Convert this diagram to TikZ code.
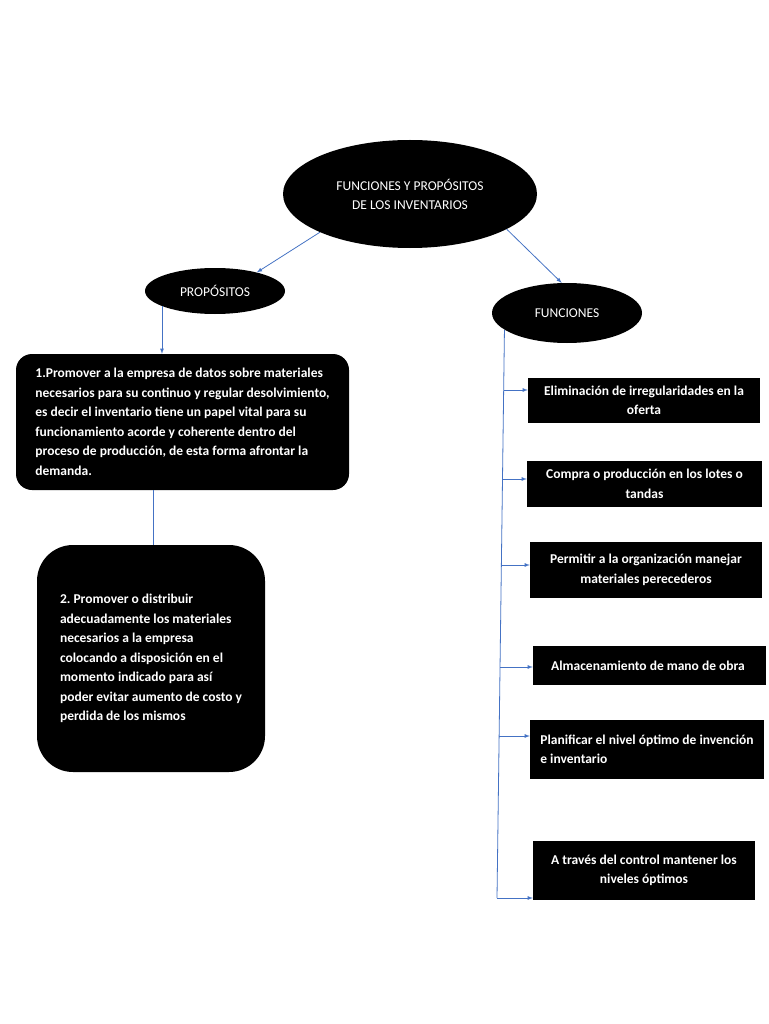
\documentclass[tikz,border=0pt]{standalone}
\usepackage{fontspec}
\setmainfont{Carlito}
\usetikzlibrary{arrows,positioning,shapes}
\usepackage{xcolor}
\definecolor{linkblue}{RGB}{68,114,196}

\begin{document}
\begin{tikzpicture}[x=1pt, y=-1pt,
        oval/.style={ellipse, fill=black, text=white, inner sep=0pt},
        card/.style={rectangle, fill=black, text=white, inner sep=0pt,
            font=\frenchspacing\bfseries\fontsize{13.5}{19.5}\selectfont},
        link/.style={draw=linkblue, line width=0.8pt, -latex},
        trunk/.style={draw=linkblue, line width=0.8pt}]
        \useasboundingbox[fill=white] (0,0) rectangle (768,1024);

        % ovals
        \node (1) [
            oval,
            minimum width=254pt,
            minimum height=108pt,
            align=center,
            font=\fontsize{13.5}{19}\selectfont
        ] at (410,194)
        {
            FUNCIONES Y PROPÓSITOS\\
            DE LOS INVENTARIOS
        };

        \node (2) [
            oval,
            minimum width=140pt,
            minimum height=46pt,
            font=\fontsize{13.5}{16}\selectfont
        ] at (215,291)
        {
            PROPÓSITOS
        };

        \node (3) [
            oval,
            minimum width=150pt,
            minimum height=60pt,
            font=\fontsize{13.5}{16}\selectfont
        ] at (567,313)
        {
            FUNCIONES
        };

        % propositos
        \node (4) [
            card,
            rounded corners=16pt,
            minimum width=333pt,
            minimum height=136pt,
            align=left
        ] at (182.5,422)
        {
            1.Promover a la empresa de datos sobre materiales\\
            necesarios para su continuo y regular desolvimiento,\\
            es decir el inventario tiene un papel vital para su\\
            funcionamiento acorde y coherente dentro del\\
            proceso de producción, de esta forma afrontar la\\
            demanda.
        };

        \node (5) [
            card,
            rounded corners=36pt,
            minimum width=228pt,
            minimum height=227pt,
            align=left
        ] at (151,658.5)
        {
            2. Promover o distribuir\\
            adecuadamente los materiales\\
            necesarios a la empresa\\
            colocando a disposición en el\\
            momento indicado para así\\
            poder evitar aumento de costo y\\
            perdida de los mismos
        };

        % funciones
        \node (6) [
            card,
            minimum width=232pt,
            minimum height=45pt,
            align=center
        ] at (644,400.5)
        {
            Eliminación de irregularidades en la\\
            oferta
        };

        \node (7) [
            card,
            minimum width=235pt,
            minimum height=46pt,
            align=center
        ] at (644.5,484)
        {
            Compra o producción en los lotes o\\
            tandas
        };

        \node (8) [
            card,
            minimum width=232pt,
            minimum height=56pt,
            align=center
        ] at (646,570)
        {
            Permitir a la organización manejar\\
            materiales perecederos
        };

        \node (9) [
            card,
            minimum width=233pt,
            minimum height=39pt,
            align=center
        ] at (649.5,665.5)
        {
            Almacenamiento de mano de obra
        };

        \node (10) [
            card,
            minimum width=234pt,
            minimum height=59pt,
            align=left
        ] at (647,749.5)
        {
            Planificar el nivel óptimo de invención\\
            e inventario
        };

        \node (11) [
            card,
            minimum width=222pt,
            minimum height=59pt,
            align=center
        ] at (644,870.5)
        {
            A través del control mantener los\\
            niveles óptimos
        };

        % branch points
        \coordinate (t6) at (504.2,390);
        \coordinate (t7) at (502.9,479);
        \coordinate (t8) at (501.7,565);
        \coordinate (t9) at (500.3,667);
        \coordinate (t10) at (499.3,736);
        \coordinate (t11) at (497,898);

        \draw[link] (1.203) to (2.24);
        \draw[link] (1.340) to (3.100);
        \draw[link] (2.196) to (2.196 |- 4.north);
        \draw[trunk] ([xshift=-29.5pt]4.south) to ([xshift=-29.5pt]4.south |- 5.north);

        \draw[trunk] (3.195) to (t11);
        \draw[link] (t6) to (t6 -| 6.west);
        \draw[link] (t7) to (t7 -| 7.west);
        \draw[link] (t8) to (t8 -| 8.west);
        \draw[link] (t9) to (t9 -| 9.west);
        \draw[link] (t10) to (t10 -| 10.west);
        \draw[link] (t11) to (t11 -| 11.west);
    \end{tikzpicture}
\end{document}
